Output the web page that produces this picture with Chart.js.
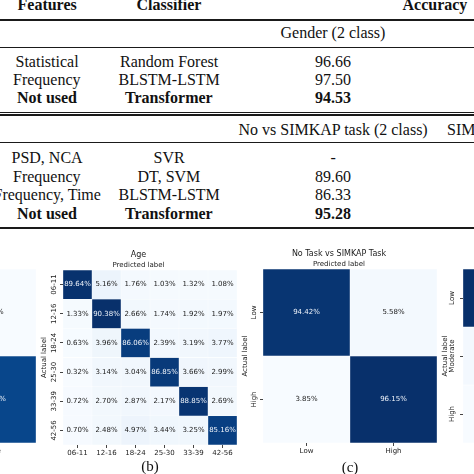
<!DOCTYPE html>
<html>
<head>
<meta charset="utf-8">
<script src="https://cdn.jsdelivr.net/npm/chart.js@4.4.1/dist/chart.umd.min.js"></script>
<style>
  html, body { margin: 0; padding: 0; width: 474px; height: 474px; overflow: hidden; background: #fff; }
  .t { position: absolute; font-family: "Liberation Serif", serif; font-size: 16px; line-height: 16px; color: #111; white-space: nowrap; }
  .rule { position: absolute; left: 0; width: 474px; background: #1a1a1a; }
  canvas { position: absolute; }
</style>
</head>
<body>
<div id="table"></div>
<canvas id="gender"></canvas>
<canvas id="age"></canvas>
<canvas id="task"></canvas>
<canvas id="multi"></canvas>
<script>
// table text
const headers = ["Features", "Classifier", "Accuracy"];
const genderTask = "Gender (2 class)";
const genderFeatures = ["Statistical", "Frequency", "Not used"];
const genderClassifiers = ["Random Forest", "BLSTM-LSTM", "Transformer"];
const genderAccuracy = ["96.66", "97.50", "94.53"];
const simkapTask = "No vs SIMKAP task (2 class)";
const simkapTask3 = "SIMKAP multitask (3 class)";
const simkapFeatures = ["PSD, NCA", "Frequency", "Frequency, Time", "Not used"];
const simkapClassifiers = ["SVR", "DT, SVM", "BLSTM-LSTM", "Transformer"];
const simkapAccuracy = ["-", "89.60", "86.33", "95.28"];

// confusion matrices (% per actual row)
const genderLabels = ["Female", "Male"];
const genderMatrix = [[98.52, 1.48], [9.45, 90.55]];
const ageLabels = ["06-11", "12-16", "18-24", "25-30", "33-39", "42-56"];
const ageMatrix = [
  [89.64, 5.16, 1.76, 1.03, 1.32, 1.08],
  [1.33, 90.38, 2.66, 1.74, 1.92, 1.97],
  [0.63, 3.96, 86.06, 2.39, 3.19, 3.77],
  [0.32, 3.14, 3.04, 86.85, 3.66, 2.99],
  [0.72, 2.70, 2.87, 2.17, 88.85, 2.69],
  [0.70, 2.48, 4.97, 3.44, 3.25, 85.16]
];
const taskLabels = ["Low", "High"];
const taskMatrix = [[94.42, 5.58], [3.85, 96.15]];
const multiLabels = ["Low", "Moderate", "High"];
const multiMatrix = [[93.10, 4.25, 2.65], [3.90, 91.80, 4.30], [2.10, 5.05, 92.85]];

// ---- table ----
const table = document.getElementById("table");
const colX = [47, 169, 333];

const addText = (txt, x, baseline, bold, center = true) => {
  const d = document.createElement("div");
  d.className = "t";
  d.textContent = txt;
  d.style.top = (baseline - 13.4) + "px";
  if (bold) d.style.fontWeight = "bold";
  table.appendChild(d);
  d.style.left = (center ? x - d.offsetWidth / 2 : x) + "px";
};
const addRule = (top, h) => {
  const r = document.createElement("div");
  r.className = "rule";
  r.style.top = top + "px";
  r.style.height = h + "px";
  table.appendChild(r);
};

addText(headers[0], colX[0], 10.5, true);
addText(headers[1], colX[1], 10.5, true);
addText(headers[2], 435, 10.5, true);
addRule(19, 2);
addText(genderTask, colX[2], 38.5, false);
addRule(47, 1);
genderFeatures.forEach((f, i) => {
  const y = 67 + i * 18.3;
  const bold = i === genderFeatures.length - 1;
  addText(f, colX[0], y, bold);
  addText(genderClassifiers[i], colX[1], y, bold);
  addText(genderAccuracy[i], colX[2], y, bold);
});
addRule(111.7, 1.6);
addRule(114.3, 1.7);
addText(simkapTask, colX[2], 135, false);
addText(simkapTask3, 447, 135, false, false);
addRule(142, 1);
simkapFeatures.forEach((f, i) => {
  const y = 163.5 + i * 18.5;
  const bold = i === simkapFeatures.length - 1;
  addText(f, colX[0], y, bold);
  addText(simkapClassifiers[i], colX[1], y, bold);
  addText(simkapAccuracy[i], colX[2], y, bold);
});
addRule(227, 2);

// ---- heatmaps ----
const bluesStops = ["#f7fbff", "#deebf7", "#c6dbef", "#9ecae1", "#6baed6", "#4292c6", "#2171b5", "#08519c", "#08306b"];
const hex = (h) => [1, 3, 5].map((k) => parseInt(h.slice(k, k + 2), 16));
const blues = (t) => {
  t = Math.max(0, Math.min(1, t)) * (bluesStops.length - 1);
  const i = Math.min(Math.floor(t), bluesStops.length - 2);
  const f = t - i;
  const a = hex(bluesStops[i]), b = hex(bluesStops[i + 1]);
  return "rgb(" + a.map((v, k) => Math.round(v + (b[k] - v) * f)).join(",") + ")";
};

const cellText = {
  id: "cellText",
  afterDatasetsDraw(chart) {
    const ctx = chart.ctx;
    ctx.save();
    ctx.font = '7px "DejaVu Sans"';
    ctx.textAlign = "center";
    ctx.textBaseline = "middle";
    chart.data.datasets.forEach((ds, i) => {
      chart.getDatasetMeta(i).data.forEach((bar, j) => {
        ctx.fillStyle = ds.textColor[j];
        ctx.fillText(ds.pct[j].toFixed(2) + "%", bar.x, (bar.y + bar.base) / 2);
      });
    });
    ctx.restore();
  }
};

const tickFont = { family: "DejaVu Sans", size: 7 };

const heatmap = (id, labels, matrix, title, caption, box) => {
  const canvas = document.getElementById(id);
  canvas.width = box.w;
  canvas.height = box.h;
  canvas.style.left = box.x + "px";
  canvas.style.top = box.y + "px";

  const flat = matrix.flat();
  const lo = Math.min(...flat), hi = Math.max(...flat);
  const datasets = labels.map((row, i) => ({
    label: row,
    data: labels.map(() => 1),
    pct: matrix[i],
    backgroundColor: matrix[i].map((v) => blues((v - lo) / (hi - lo))),
    textColor: matrix[i].map((v) => ((v - lo) / (hi - lo) > 0.5 ? "#eef3fa" : "#222")),
    borderColor: "rgba(255,255,255,0.35)",
    borderWidth: 0.5,
    borderSkipped: false,
    categoryPercentage: 1,
    barPercentage: 1
  }));

  const grid = { display: true, offset: false, drawOnChartArea: false, tickLength: 3, color: "#444" };

  new Chart(canvas, {
    type: "bar",
    data: { labels: labels, datasets: datasets },
    options: {
      responsive: false,
      animation: false,
      layout: { padding: { right: 5 } },
      plugins: {
        legend: { display: false },
        tooltip: { enabled: false },
        title: { display: true, text: title, color: "#1a1a1a", font: { family: "DejaVu Sans", size: 8, weight: "normal" }, padding: { top: 6, bottom: 0 } },
        subtitle: { display: true, text: "Predicted label", color: "#1a1a1a", font: { family: "DejaVu Sans", size: 7 }, padding: { top: 1, bottom: 1 } }
      },
      scales: {
        x: {
          stacked: true,
          offset: true,
          grid: grid,
          border: { display: false },
          ticks: { color: "#1a1a1a", font: tickFont, padding: 1, maxRotation: 0, autoSkip: false },
          title: { display: true, text: caption, color: "#111", font: { family: "Liberation Serif", size: 15 }, padding: { top: 0, bottom: 0 } },
          afterFit: (s) => { s.height = box.axisH; }
        },
        y: {
          stacked: true,
          min: 0,
          max: labels.length,
          reverse: true,
          grid: grid,
          border: { display: false },
          afterBuildTicks: (s) => { s.ticks = labels.map((_, i) => ({ value: i + 0.5 })); },
          ticks: {
            color: "#1a1a1a",
            font: tickFont,
            autoSkip: false,
            minRotation: 90,
            maxRotation: 90,
            crossAlign: "center",
            padding: box.tickPad,
            callback: (v) => labels[Math.floor(v)]
          },
          title: { display: true, text: "Actual label", color: "#1a1a1a", font: tickFont, padding: { top: 0, bottom: 0 } },
          afterFit: (s) => { s.width = box.axisW; }
        }
      }
    },
    plugins: [cellText]
  });
};

heatmap("gender", genderLabels, genderMatrix, "Gender", "(a)", { x: -160, y: 243, w: 201, h: 233, axisW: 22, axisH: 33, tickPad: -7 });
heatmap("age", ageLabels, ageMatrix, "Age", "(b)", { x: 40, y: 244, w: 202, h: 232, axisW: 23, axisH: 31, tickPad: -4 });
heatmap("task", taskLabels, taskMatrix, "No Task vs SIMKAP Task", "(c)", { x: 241, y: 243, w: 201, h: 234, axisW: 22, axisH: 34, tickPad: -2 });
heatmap("multi", multiLabels, multiMatrix, "SIMKAP Multitask", "(d)", { x: 441, y: 243, w: 201, h: 233, axisW: 22, axisH: 33, tickPad: -8.6 });
</script>
</body>
</html>
